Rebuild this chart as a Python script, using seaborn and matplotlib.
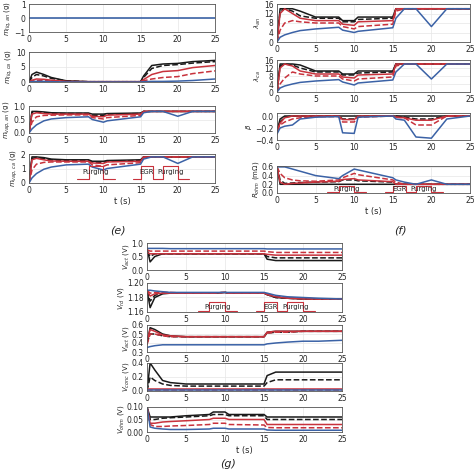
import numpy as np
import matplotlib
matplotlib.use("Agg")
import matplotlib.pyplot as plt
import seaborn as sns

sns.set_style("white")
plt.rcParams['font.family'] = ['DejaVu Sans']

T = [0, 0.4, 1, 2, 3, 5, 8, 8.5, 10, 10.5, 15, 15.4, 16.5, 18, 20, 22, 25]

e1 = [[0]*17]
e2 = [[0,2.5,3.3,2.5,1.5,0.4,0.1,0.1,0.1,0.1,0.1,2,5.5,6,6.2,6.8,7.2],
      [0,1.5,2.5,2,1.2,0.4,0.1,0.1,0.1,0.1,0.1,1.5,4.5,5.5,5.8,6.3,6.8],
      [0,0.6,1,0.9,0.6,0.2,0.1,0.1,0.1,0.1,0.1,0.8,2.5,3.5,3.8,4.8,5.5],
      [0,0.3,0.5,0.5,0.3,0.1,0.1,0.1,0.1,0.1,0.1,0.4,1,1.5,1.8,2.8,3.7],
      [0,0.1,0.2,0.2,0.1,0,0,0,0,0,0,0.1,0.2,0.2,0.3,0.5,1]]
e3 = [[0,0.8,0.8,0.78,0.75,0.74,0.74,0.7,0.7,0.72,0.74,0.8,0.8,0.8,0.8,0.8,0.8],
      [0,0.75,0.78,0.75,0.72,0.72,0.72,0.66,0.65,0.7,0.72,0.8,0.8,0.8,0.8,0.8,0.8],
      [0,0.7,0.75,0.72,0.7,0.7,0.7,0.62,0.6,0.66,0.7,0.8,0.8,0.8,0.8,0.8,0.8],
      [0,0.4,0.6,0.65,0.66,0.67,0.67,0.57,0.52,0.57,0.65,0.8,0.8,0.8,0.8,0.8,0.8],
      [0,0.15,0.3,0.45,0.52,0.57,0.6,0.5,0.4,0.45,0.6,0.75,0.8,0.8,0.62,0.8,0.8]]
e4 = [[0,1.8,1.8,1.75,1.65,1.6,1.6,1.5,1.5,1.55,1.6,1.8,1.8,1.8,1.8,1.8,1.8],
      [0,1.7,1.75,1.68,1.6,1.55,1.55,1.45,1.42,1.5,1.55,1.8,1.8,1.8,1.8,1.8,1.8],
      [0,1.6,1.7,1.6,1.52,1.5,1.5,1.38,1.35,1.45,1.5,1.8,1.8,1.8,1.8,1.8,1.8],
      [0,0.9,1.3,1.42,1.45,1.45,1.45,1.25,1.15,1.25,1.4,1.75,1.8,1.8,1.8,1.8,1.8],
      [0,0.35,0.65,0.95,1.1,1.25,1.3,1.1,0.9,1.0,1.3,1.65,1.8,1.8,1.35,1.8,1.8]]

f1 = [[0,14,14,14,13,10.5,10.5,9,9,10.5,10.5,14,14,14,14,14,14],
      [0,13,14,13,11,10,10,8.5,8.5,9.5,10,14,14,14,14,14,14],
      [0,12,14,12,10,9,9,7.5,7,8.5,9,14,14,14,14,14,14],
      [0,5,8,9,8.5,8,8,6.5,5.5,6.5,7.5,13,14,14,14,14,14],
      [0,2,3,4,4.8,5.5,6.2,5,4,4.5,6,10,14,14,6.5,14,14]]
f2 = [[0,14,14,14,13.5,10.5,10.5,9,9,10.5,10.5,14,14,14,14,14,14],
      [0,13,14,13.5,12,10,10,8.5,8.5,9.5,10,14,14,14,14,14,14],
      [0,12,14,13,10.5,9,9,7.5,7,8.5,9,14,14,14,14,14,14],
      [0,4,7,10,9,8,8,6.5,5.5,6.5,7.5,13,14,14,14,14,14],
      [0,2,3,4,4.8,5.5,6.2,5,3.5,4.5,6,10,14,14,6.5,14,14]]
f3 = [[-0.25,-0.05,0,0,0,0,0,0,0,0,0,0,0,0,0,0,0],
      [-0.25,-0.1,-0.02,0,0,0,0,-0.05,-0.05,0,0,0,-0.02,-0.05,-0.05,0,0],
      [-0.25,-0.12,-0.03,0,0,0,0,-0.06,-0.06,0,0,-0.02,-0.03,-0.07,-0.07,0,0],
      [-0.25,-0.15,-0.1,-0.05,-0.03,-0.01,-0.01,-0.1,-0.1,-0.02,0,-0.02,-0.03,-0.15,-0.15,0,0],
      [-0.3,-0.2,-0.17,-0.15,-0.05,-0.02,-0.01,-0.28,-0.29,-0.02,0,-0.05,-0.07,-0.35,-0.37,-0.05,0]]
f4 = [[0.6,0.2,0.2,0.2,0.2,0.2,0.2,0.2,0.2,0.2,0.2,0.2,0.2,0.2,0.2,0.2,0.2],
      [0.6,0.3,0.22,0.23,0.24,0.25,0.26,0.3,0.3,0.28,0.25,0.2,0.2,0.2,0.2,0.2,0.2],
      [0.6,0.25,0.2,0.22,0.23,0.25,0.27,0.31,0.33,0.3,0.26,0.2,0.2,0.2,0.2,0.2,0.2],
      [0.6,0.45,0.35,0.3,0.28,0.27,0.3,0.35,0.45,0.42,0.3,0.25,0.2,0.2,0.2,0.2,0.2],
      [0.6,0.6,0.6,0.55,0.5,0.4,0.33,0.4,0.55,0.53,0.35,0.3,0.25,0.2,0.3,0.2,0.2]]

g1 = [[0.8,0.3,0.5,0.6,0.6,0.6,0.6,0.6,0.6,0.6,0.6,0.4,0.35,0.35,0.35,0.35,0.35],
      [0.7,0.5,0.6,0.6,0.6,0.6,0.6,0.6,0.6,0.6,0.6,0.5,0.45,0.45,0.45,0.45,0.45],
      [0.65,0.6,0.6,0.6,0.6,0.6,0.6,0.6,0.6,0.6,0.6,0.58,0.55,0.55,0.55,0.55,0.55],
      [0.75,0.7,0.7,0.7,0.7,0.7,0.7,0.7,0.7,0.7,0.7,0.68,0.65,0.65,0.65,0.65,0.65],
      [0.8,0.8,0.8,0.8,0.79,0.79,0.79,0.79,0.79,0.79,0.79,0.78,0.78,0.78,0.78,0.78,0.78]]
g2 = [[1.19,1.166,1.18,1.185,1.186,1.186,1.186,1.186,1.187,1.186,1.186,1.184,1.18,1.179,1.178,1.178,1.178],
      [1.19,1.175,1.183,1.186,1.186,1.186,1.186,1.186,1.187,1.186,1.186,1.184,1.18,1.179,1.178,1.178,1.178],
      [1.19,1.182,1.185,1.186,1.186,1.186,1.186,1.186,1.187,1.186,1.186,1.184,1.181,1.179,1.178,1.178,1.178],
      [1.19,1.186,1.187,1.187,1.187,1.186,1.186,1.186,1.187,1.186,1.186,1.185,1.182,1.18,1.179,1.178,1.178],
      [1.19,1.19,1.189,1.188,1.187,1.187,1.187,1.187,1.187,1.187,1.187,1.186,1.183,1.181,1.18,1.179,1.178]]
g3 = [[0.4,0.57,0.55,0.5,0.48,0.47,0.47,0.47,0.47,0.47,0.47,0.52,0.53,0.53,0.53,0.53,0.53],
      [0.4,0.5,0.5,0.48,0.47,0.47,0.47,0.47,0.47,0.47,0.47,0.51,0.52,0.52,0.53,0.53,0.53],
      [0.42,0.55,0.53,0.49,0.48,0.47,0.47,0.47,0.47,0.47,0.47,0.52,0.53,0.53,0.53,0.53,0.53],
      [0.38,0.5,0.5,0.48,0.47,0.47,0.47,0.47,0.47,0.47,0.47,0.51,0.52,0.52,0.53,0.53,0.53],
      [0.35,0.36,0.37,0.38,0.38,0.38,0.38,0.38,0.38,0.38,0.38,0.39,0.4,0.41,0.42,0.42,0.43]]
g4 = [[0,0.4,0.3,0.15,0.12,0.1,0.1,0.1,0.1,0.1,0.1,0.22,0.27,0.27,0.27,0.27,0.27],
      [0,0.2,0.15,0.1,0.08,0.07,0.07,0.07,0.07,0.07,0.07,0.12,0.16,0.16,0.16,0.16,0.16],
      [0.03,0.03,0.03,0.03,0.03,0.03,0.03,0.03,0.03,0.03,0.03,0.03,0.03,0.03,0.03,0.03,0.03],
      [0.02,0.02,0.02,0.02,0.02,0.02,0.02,0.02,0.02,0.02,0.02,0.02,0.02,0.02,0.02,0.02,0.02],
      [0.01,0.01,0.01,0.01,0.01,0.01,0.01,0.01,0.01,0.01,0.01,0.01,0.01,0.01,0.01,0.01,0.01]]
g5 = [[0.1,0.06,0.06,0.06,0.06,0.065,0.07,0.08,0.08,0.07,0.07,0.06,0.06,0.06,0.06,0.06,0.06],
      [0.1,0.05,0.05,0.055,0.057,0.06,0.065,0.07,0.07,0.065,0.065,0.05,0.05,0.05,0.05,0.05,0.05],
      [0.1,0.035,0.035,0.04,0.042,0.045,0.05,0.055,0.055,0.05,0.05,0.03,0.03,0.03,0.03,0.03,0.03],
      [0.1,0.03,0.022,0.022,0.024,0.026,0.03,0.035,0.035,0.03,0.028,0.018,0.017,0.017,0.017,0.017,0.017],
      [0.1,0.02,0.015,0.012,0.01,0.01,0.012,0.015,0.015,0.012,0.012,0.008,0.007,0.007,0.007,0.007,0.007]]

# event markers (purging / EGR)
ev_t = [6.5, 8, 8, 10, 10, 11.5, np.nan, 14, 15, 15, 16.7, 16.7, 18, 18, 20, 20, 21.5]
ev_v = [0, 0, 1, 1, 0, 0, np.nan, 0, 0, 1, 1, 0, 0, 1, 1, 0, 0]
ev_labels = [("Purging", 9), ("EGR", 15.85), ("Purging", 19)]

BLACK, RED, BLUE = "#1a1a1a", "#c8323c", "#3b62a6"
styles = [(BLACK, "-"), (BLACK, "--"), (RED, "-"), (RED, "--"), (BLUE, "-")]

W = H = 474
fig = plt.figure(figsize=(4.74, 4.74), dpi=100)

def add(x0, x1, y0, y1, series, ylim, yticks, ylabel, xlabel=False, ev=None):
    ax = fig.add_axes([x0 / W, 1 - y1 / H, (x1 - x0) / W, (y1 - y0) / H])
    if len(series) == 1:
        sns.lineplot(x=T, y=series[0], color=BLUE, lw=1.2, ax=ax)
    else:
        for s, (c, ls) in zip(series, styles):
            sns.lineplot(x=T, y=s, color=c, linestyle=ls, lw=1.1, ax=ax)
    if ev is not None:
        lo, hi = ev
        ax.plot(ev_t, [lo + v * (hi - lo) for v in ev_v], color=RED, lw=0.8)
        for lab, xc in ev_labels:
            ax.text(xc, lo + 0.5 * (hi - lo), lab, fontsize=5, ha="center", va="center")
    ax.set_xlim(0, 25)
    ax.set_ylim(*ylim)
    ax.set_yticks(yticks)
    ax.set_xticks([0, 5, 10, 15, 20, 25])
    ax.tick_params(labelsize=5.5, length=1.5, pad=1)
    ax.grid(True, color="#e6e6e6", lw=0.5)
    for sp in ax.spines.values():
        sp.set_color("#555555"); sp.set_linewidth(0.6)
    ax.set_ylabel(ylabel, fontsize=5, labelpad=0.5)
    if xlabel:
        ax.set_xlabel("t (s)", fontsize=6, labelpad=1)
    return ax

# (e)
add(29, 215, 4, 32, e1, (-1, 1), [-1, 0, 1], r"$m_{liq,an}$ (g)")
add(29, 215, 52, 82, e2, (0, 10), [0, 5, 10], r"$m_{liq,ca}$ (g)")
add(29, 215, 106, 133, e3, (0, 1), [0, 0.5, 1], r"$m_{vap,an}$ (g)")
add(29, 215, 154, 183, e4, (0, 2), [0, 1, 2], r"$m_{vap,ca}$ (g)", xlabel=True, ev=(0.3, 1.2))
# (f)
add(277, 470, 4, 42, f1, (0, 16), [0, 4, 8, 12, 16], r"$\lambda_{an}$")
add(277, 470, 60, 92, f2, (0, 16), [0, 4, 8, 12, 16], r"$\lambda_{ca}$")
add(277, 470, 113, 140, f3, (-0.4, 0.05), [-0.4, -0.2, 0], r"$\beta$")
add(277, 470, 166, 193, f4, (0, 0.62), [0, 0.2, 0.4, 0.6], r"$R_{ohm}$ (m$\Omega$)", xlabel=True, ev=(0.02, 0.15))
# (g)
add(147, 342, 243, 270, g1, (0, 1), [0, 0.5, 1], r"$V_{act}$ (V)")
add(147, 342, 283, 312, g2, (1.16, 1.2), [1.16, 1.18, 1.2], r"$V_{rd}$ (V)", ev=(1.1615, 1.1735))
add(147, 342, 325, 352, g3, (0.3, 0.6), [0.3, 0.4, 0.5, 0.6], r"$V_{act}$ (V)")
add(147, 342, 363, 391, g4, (0, 0.4), [0, 0.2, 0.4], r"$V_{conc}$ (V)")
add(147, 342, 407, 432, g5, (0, 0.1), [0, 0.05, 0.1], r"$V_{ohm}$ (V)", xlabel=True)

fig.text(118 / W, 1 - 230 / H, "(e)", fontsize=8, style="italic", ha="center", va="center")
fig.text(400 / W, 1 - 230 / H, "(f)", fontsize=8, style="italic", ha="center", va="center")
fig.text(228 / W, 1 - 464 / H, "(g)", fontsize=8, style="italic", ha="center", va="center")

fig.savefig("out.png", dpi=100)
